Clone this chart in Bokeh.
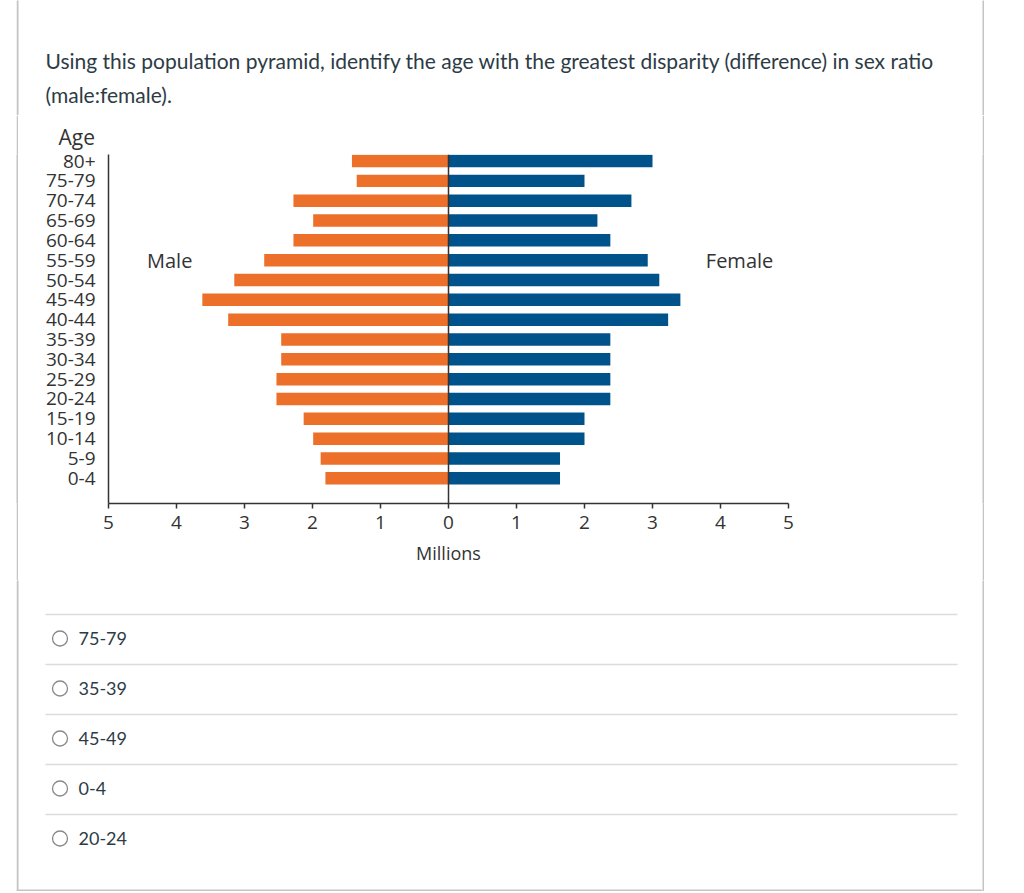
from bokeh.plotting import figure
from bokeh.layouts import column, row
from bokeh.models import Range1d, FixedTicker, Label, Span, ColumnDataSource, Spacer
from bokeh.core.properties import value
from bokeh.embed import file_html
from bokeh.resources import INLINE

# Population by age group, in millions
ages = ["0-4", "5-9", "10-14", "15-19", "20-24", "25-29", "30-34", "35-39",
        "40-44", "45-49", "50-54", "55-59", "60-64", "65-69", "70-74", "75-79", "80+"]
male = [1.81, 1.88, 1.99, 2.13, 2.53, 2.53, 2.46, 2.46,
        3.24, 3.62, 3.15, 2.71, 2.28, 1.99, 2.28, 1.35, 1.42]
female = [1.64, 1.64, 2.00, 2.00, 2.38, 2.38, 2.38, 2.38,
          3.23, 3.41, 3.10, 2.93, 2.38, 2.19, 2.69, 2.00, 3.00]
x_ticks = [-5, -4, -3, -2, -1, 0, 1, 2, 3, 4, 5]

question = [
    "Using this population pyramid, identify the age with the greatest disparity (difference) in sex ratio",
    "(male:female).",
]
choices = ["75-79", "35-39", "45-49", "0-4", "20-24"]

MALE_COLOR = "#EC6F2A"
FEMALE_COLOR = "#00528A"
INK = "#2d3b45"
AXIS = "#333333"
FRAME_GREY = "#c4c4c4"

W = 1024
RULE = 2
EDGE_L = 16             # left edge of the question box (outer side of its border)
X0 = EDGE_L + RULE      # inner left edge
INNER_W = 964           # inner width of the question box
X1 = X0 + INNER_W       # inner right edge
HEAD_H = 115            # question text
CHART_H = 465           # pyramid band
FOOT_H = 309 + RULE     # answer choices plus bottom border
FRAME_L, FRAME_R, FRAME_T, FRAME_B = 108, 788, 154, 503


def panel(width, height, x0, y0):
    """Blank figure whose coordinates are page pixels (y grows downward)."""
    f = figure(width=width, height=height, output_backend="svg", toolbar_location=None,
               title=None, x_axis_location=None, y_axis_location=None,
               x_range=Range1d(x0, x0 + width), y_range=Range1d(y0 + height, y0))
    f.min_border = 0
    f.outline_line_color = None
    f.grid.visible = False
    f.background_fill_color = "white"
    f.border_fill_color = "white"
    return f


def rule(width, height):
    """Solid grey strip: one edge of the question box."""
    f = figure(width=width, height=height, output_backend="svg", toolbar_location=None,
               title=None, x_axis_location=None, y_axis_location=None,
               x_range=Range1d(0, 1), y_range=Range1d(0, 1))
    f.min_border = 0
    f.outline_line_color = None
    f.grid.visible = False
    f.background_fill_color = FRAME_GREY
    f.border_fill_color = FRAME_GREY
    return f


def left_edge(f, y0, y1):
    f.segment(x0=[EDGE_L + RULE / 2], x1=[EDGE_L + RULE / 2], y0=[y0 - 5], y1=[y1 + 5],
              line_color=FRAME_GREY, line_width=RULE)


# ---- question header ----
head = panel(INNER_W + RULE, HEAD_H, EDGE_L, 0)
left_edge(head, 0, HEAD_H)
head.text(x=[45] * len(question), y=[60 + 34 * i for i in range(len(question))], text=question,
          text_font=value("Lato"), text_font_size=value("21px"), text_color=INK,
          text_align="left", text_baseline="middle")

# ---- pyramid ----
p = figure(width=INNER_W, height=CHART_H, output_backend="svg", toolbar_location=None,
           title="Age", x_range=Range1d(-5, 5), y_range=Range1d(-1.27, 16.33))
p.min_border = 0
p.min_border_left = FRAME_L - X0
p.min_border_right = X1 - FRAME_R
p.min_border_top = FRAME_T - HEAD_H
p.min_border_bottom = HEAD_H + CHART_H - FRAME_B
p.outline_line_color = None
p.xgrid.visible = False
p.ygrid.visible = False
p.background_fill_color = "white"
p.border_fill_color = "white"

p.title.align = "left"
p.title.offset = -50
p.title.standoff = 7
p.title.text_font = "Open Sans"
p.title.text_font_size = "21px"
p.title.text_font_style = "normal"
p.title.text_color = AXIS

src = ColumnDataSource(dict(y=list(range(len(ages))),
                            male=[-m for m in male], female=female))
p.hbar(y="y", left="male", right=0, height=0.63, source=src,
       fill_color=MALE_COLOR, line_color=None)
p.hbar(y="y", left=0, right="female", height=0.63, source=src,
       fill_color=FEMALE_COLOR, line_color=None)
p.add_layout(Span(location=0, dimension="height", line_color=AXIS, line_width=1.5))

ya = p.yaxis[0]
ya.ticker = FixedTicker(ticks=list(range(len(ages))))
ya.major_label_overrides = {i: a for i, a in enumerate(ages)}
ya.major_tick_line_color = None
ya.minor_tick_line_color = None
ya.axis_line_color = AXIS
ya.axis_line_width = 1.5
ya.major_label_standoff = 7
ya.major_label_text_font = "Open Sans"
ya.major_label_text_font_size = "19px"
ya.major_label_text_color = AXIS

xa = p.xaxis[0]
xa.ticker = FixedTicker(ticks=x_ticks)
xa.major_label_overrides = {t: str(abs(t)) for t in x_ticks}
xa.minor_tick_line_color = None
xa.major_tick_in = 0
xa.major_tick_out = 5
xa.major_tick_line_color = AXIS
xa.major_tick_line_width = 1.5
xa.axis_line_color = AXIS
xa.axis_line_width = 1.5
xa.major_label_standoff = 7
xa.major_label_text_font = "Open Sans"
xa.major_label_text_font_size = "19px"
xa.major_label_text_color = AXIS
xa.axis_label = "Millions"
xa.axis_label_text_font = "Open Sans"
xa.axis_label_text_font_size = "18px"
xa.axis_label_text_font_style = "normal"
xa.axis_label_text_color = AXIS
xa.axis_label_standoff = 9

p.add_layout(Label(x=-4.1, y=11, text="Male", text_font="Open Sans", text_font_size="20px",
                   text_color=AXIS, text_align="center", text_baseline="middle"))
p.add_layout(Label(x=4.28, y=11, text="Female", text_font="Open Sans", text_font_size="20px",
                   text_color=AXIS, text_align="center", text_baseline="middle"))

# ---- answer choices ----
y_top = HEAD_H + CHART_H
foot = panel(INNER_W + RULE, FOOT_H, EDGE_L, y_top)
left_edge(foot, y_top, y_top + FOOT_H)
foot.segment(x0=[EDGE_L], x1=[X1 + RULE], y0=[y_top + FOOT_H - RULE / 2],
             y1=[y_top + FOOT_H - RULE / 2], line_color=FRAME_GREY, line_width=RULE)

rows_y = [638 + 50 * k for k in range(len(choices))]
foot.segment(x0=[45] * len(choices), x1=[957] * len(choices),
             y0=[y - 24 for y in rows_y], y1=[y - 24 for y in rows_y],
             line_color="#dcdcdc", line_width=1.5)
foot.scatter(x=[59.5] * len(choices), y=rows_y, marker="circle", size=15,
             fill_color="white", line_color="#8a8a8a", line_width=1.3)
foot.text(x=[78] * len(choices), y=rows_y, text=choices, text_font=value("Lato"),
          text_font_size=value("18px"), text_color=INK, text_align="left",
          text_baseline="middle")

tail_w = W - (X1 + RULE)
head_row = row(Spacer(width=EDGE_L, height=HEAD_H), head, rule(RULE, HEAD_H),
               Spacer(width=tail_w, height=HEAD_H), spacing=0)
chart_row = row(Spacer(width=EDGE_L, height=CHART_H), rule(RULE, CHART_H), p,
                rule(RULE, CHART_H), Spacer(width=tail_w, height=CHART_H), spacing=0)
foot_row = row(Spacer(width=EDGE_L, height=FOOT_H), foot, rule(RULE, FOOT_H),
               Spacer(width=tail_w, height=FOOT_H), spacing=0)

page = column(head_row, chart_row, foot_row, spacing=0)
open("out.html", "w").write(file_html(page, INLINE))
